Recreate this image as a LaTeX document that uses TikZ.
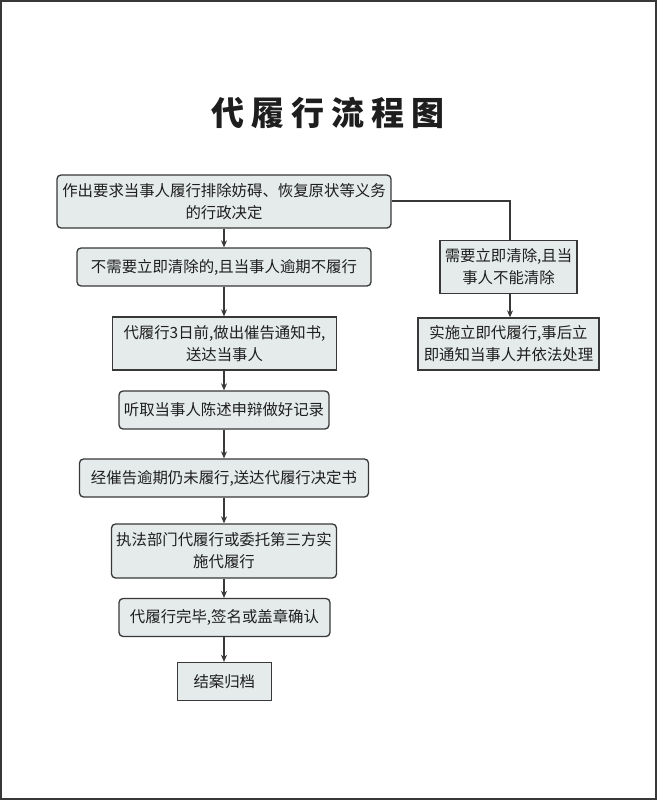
\documentclass[tikz,border=0pt]{standalone}
\usepackage{fontspec}
\newfontfamily\cjk{Noto Sans CJK SC}
\usetikzlibrary{arrows.meta}
\definecolor{boxfill}{HTML}{E5EAEA}
\definecolor{boxline}{HTML}{383838}
\definecolor{txt}{HTML}{1E1E1E}
\begin{document}
\begin{tikzpicture}[x=1pt,y=-1pt,
  every node/.style={font=\cjk\fontsize{15.4}{22}\selectfont, text=txt, align=center, inner sep=0pt},
  flowbox/.style={draw=boxline, fill=boxfill, line width=1.3pt, rectangle},
  rbox/.style={flowbox, rounded corners=4pt},
  sbox/.style={flowbox},
  conn/.style={draw=boxline, line width=1.2pt, -{Stealth[length=7pt,width=6pt]}},
  plain/.style={draw=boxline, line width=1.2pt}]
\useasboundingbox (0,0) rectangle (657,800);
\draw[boxline, line width=1.6pt] (0.8,0.8) rectangle (656.2,799.2);
\node (title) at (328,113) {\fontsize{33}{36}\selectfont\bfseries 代\hspace{7pt}履\hspace{7pt}行\hspace{7pt}流\hspace{7pt}程\hspace{7pt}图};
\node[rbox, minimum width=334pt, minimum height=53pt] (b1) at (224,201.5) {作出要求当事人履行排除妨碍、恢复原状等义务\\的行政决定};
\node[rbox, minimum width=294pt, minimum height=38pt] (b2) at (224,267) {不需要立即清除的,且当事人逾期不履行};
\node[sbox, minimum width=224pt, minimum height=53pt] (b3) at (224.5,343.5) {代履行3日前,做出催告通知书,\\送达当事人};
\node[rbox, minimum width=210pt, minimum height=38pt] (b4) at (224,410) {听取当事人陈述申辩做好记录};
\node[rbox, minimum width=289pt, minimum height=38pt] (b5) at (224,478) {经催告逾期仍未履行,送达代履行决定书};
\node[rbox, minimum width=225pt, minimum height=54pt] (b6) at (224,551) {执法部门代履行或委托第三方实\\施代履行};
\node[rbox, minimum width=211pt, minimum height=38pt] (b7) at (224.5,617.5) {代履行完毕,签名或盖章确认};
\node[sbox, minimum width=94pt, minimum height=38pt] (b8) at (224.3,681.5) {结案归档};
\node[sbox, minimum width=137pt, minimum height=53pt] (ba) at (508.5,267) {需要立即清除,且当\\事人不能清除};
\node[sbox, minimum width=181pt, minimum height=52pt] (bb) at (508.5,344) {实施立即代履行,事后立\\即通知当事人并依法处理};
\draw[conn] (b1.south -| 224,0) -- (b2.north -| 224,0);
\draw[conn] (b2.south -| 224,0) -- (b3.north -| 224,0);
\draw[conn] (b3.south -| 224,0) -- (b4.north -| 224,0);
\draw[conn] (b4.south -| 224,0) -- (b5.north -| 224,0);
\draw[conn] (b5.south -| 224,0) -- (b6.north -| 224,0);
\draw[conn] (b6.south -| 224,0) -- (b7.north -| 224,0);
\draw[conn] (b7.south -| 224,0) -- (b8.north -| 224,0);
\draw[plain] (b1.east |- 0,201) -| (ba.north -| 510,0);
\draw[conn] (ba.south -| 510,0) -- (bb.north -| 510,0);
\end{tikzpicture}
\end{document}
